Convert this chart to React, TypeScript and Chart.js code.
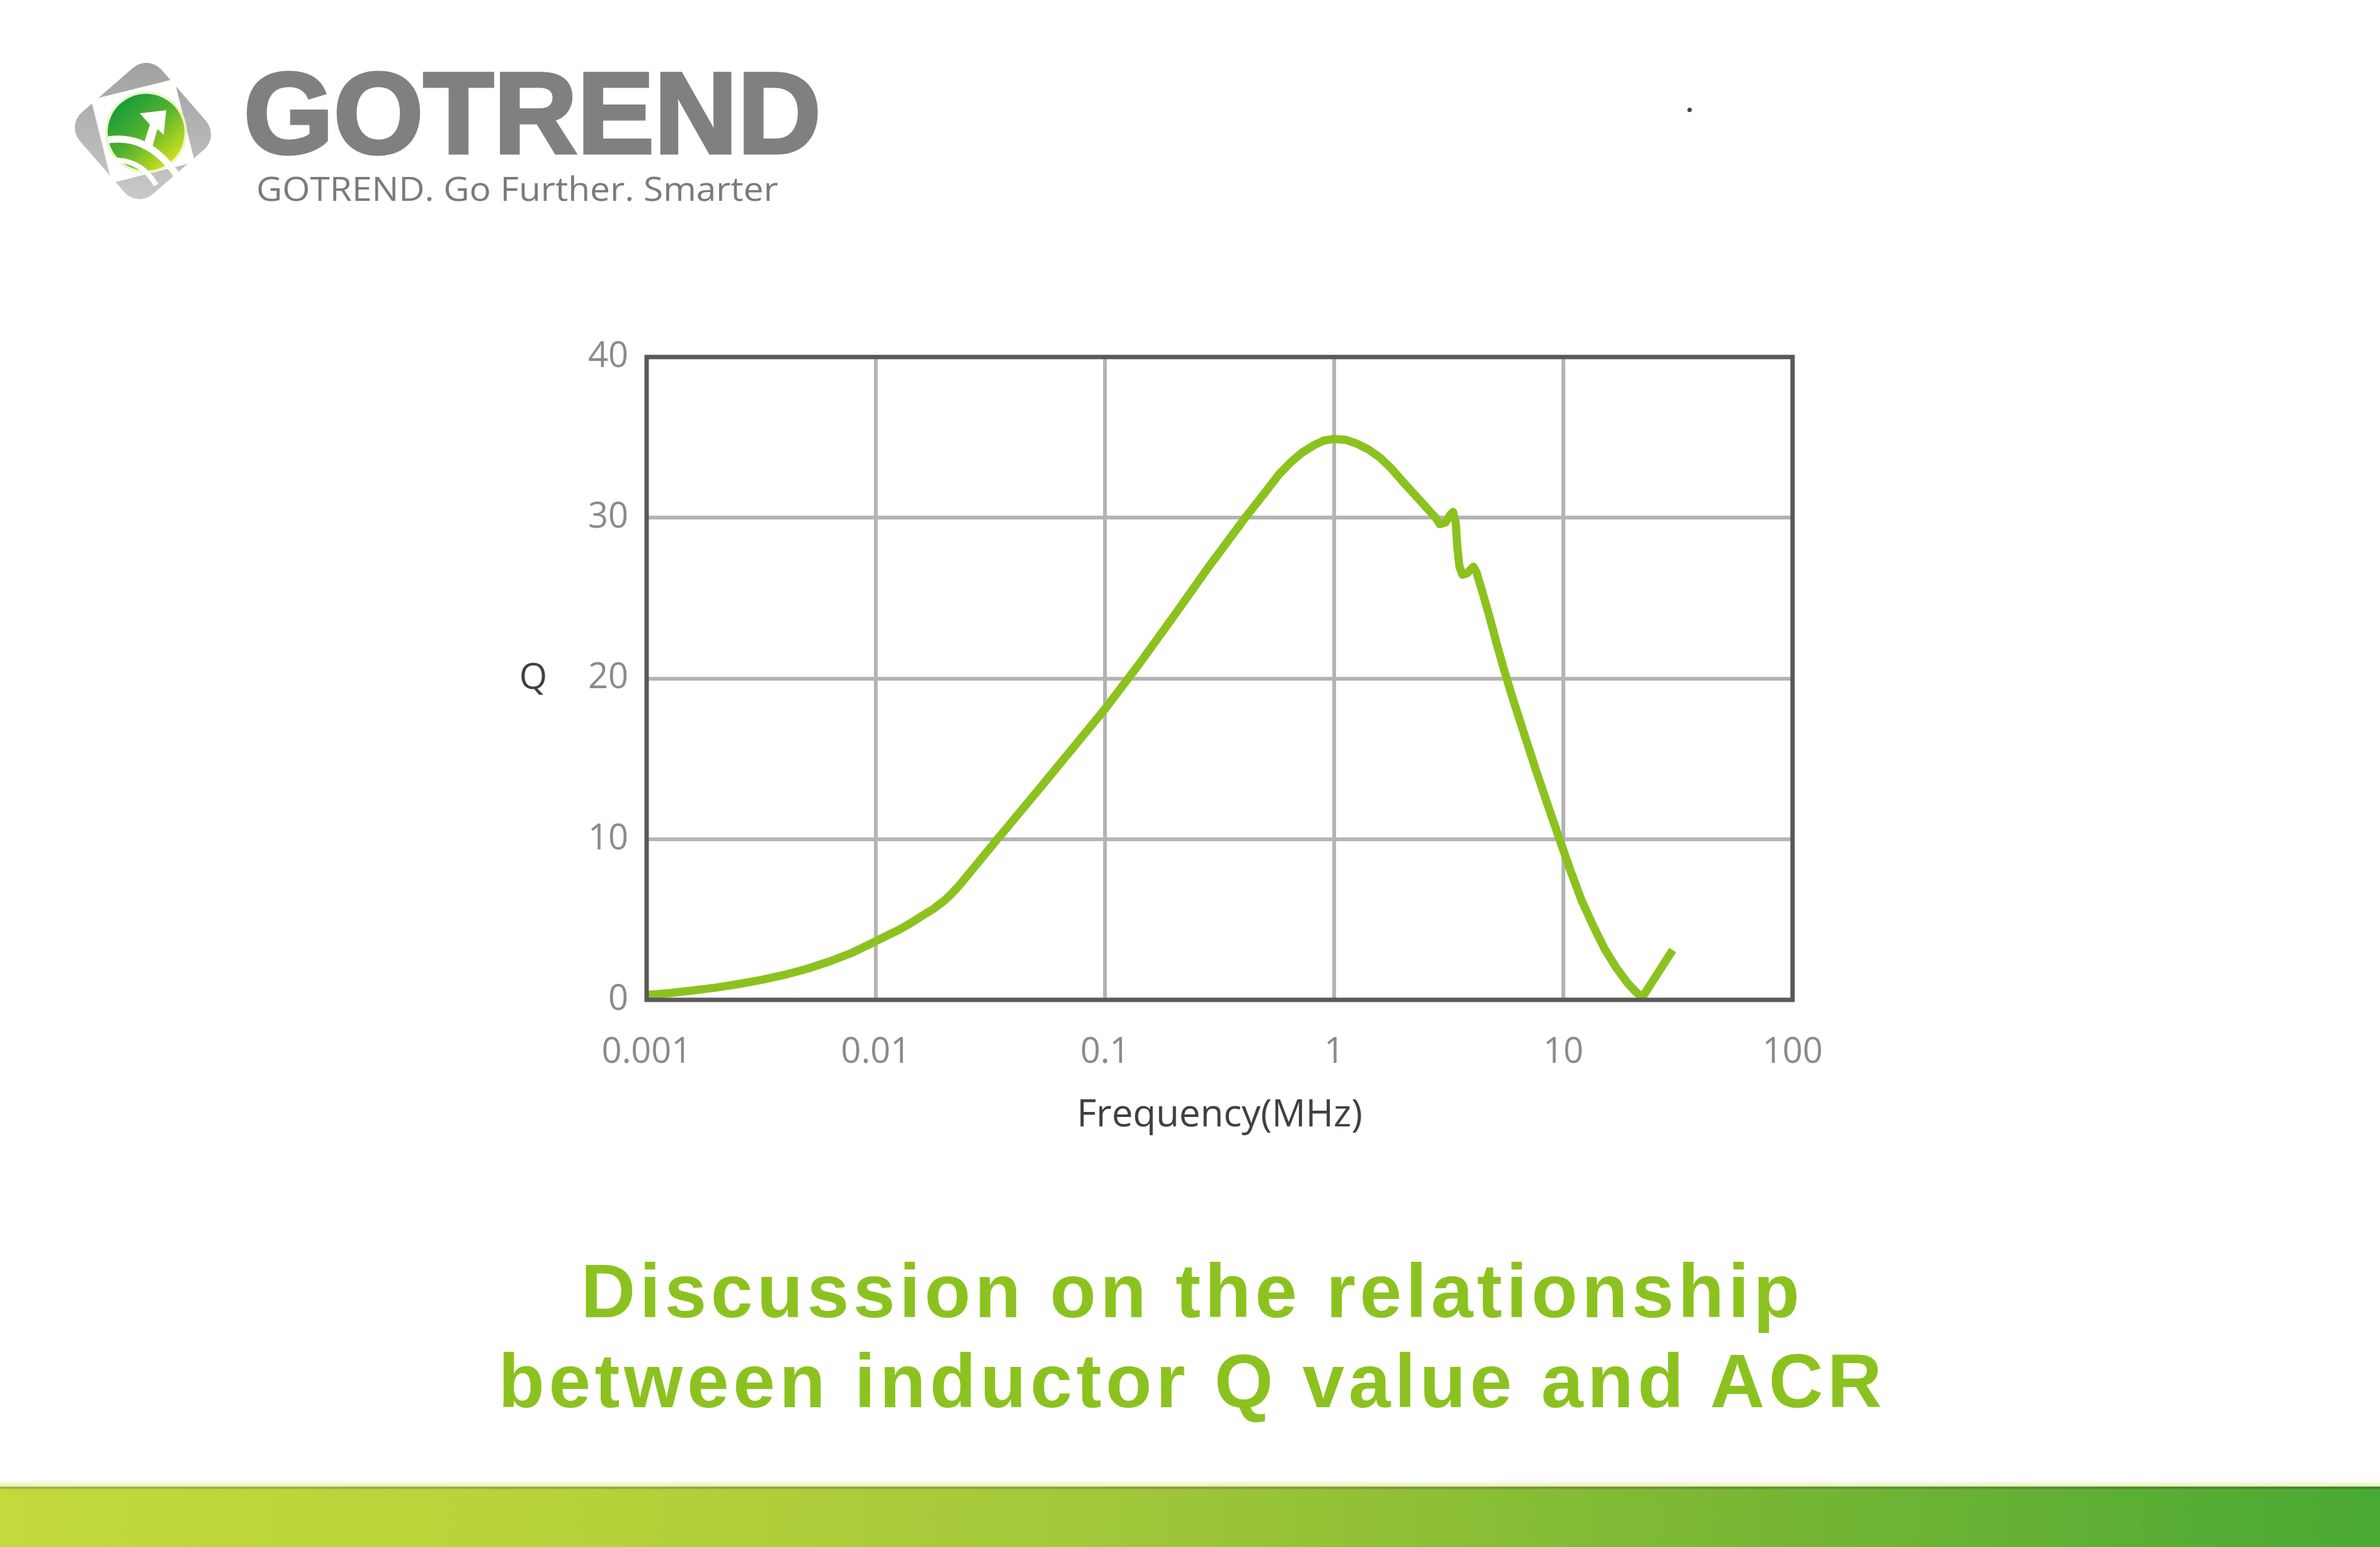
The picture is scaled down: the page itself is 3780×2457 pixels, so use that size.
import React, { useEffect, useRef } from "react";
import { Chart, registerables } from "chart.js";

Chart.register(...registerables);

// ---------- data ----------
const frequencyMHz = [
  0.001, 0.00126, 0.00158, 0.002, 0.00251, 0.00316, 0.00398, 0.00501, 0.00631, 0.00794,
  0.01, 0.0112, 0.0126, 0.0141, 0.0158, 0.0178, 0.02, 0.0214, 0.0229, 0.0344,
  0.0501, 0.0708, 0.1, 0.141, 0.2, 0.282, 0.404, 0.501, 0.575, 0.646,
  0.724, 0.813, 0.902, 1.0, 1.12, 1.26, 1.41, 1.58, 1.78, 2.02,
  2.44, 2.77, 2.89, 3.06, 3.2, 3.3, 3.39, 3.45, 3.52, 3.63,
  3.8, 4.05, 4.18, 4.47, 4.79, 5.13, 5.52, 6.03, 6.76, 7.59,
  8.51, 9.51, 10.7, 12.0, 13.5, 15.1, 17.0, 19.05, 20.7, 22.08,
  30.0,
];
const qValues = [
  0.3, 0.42, 0.58, 0.76, 0.98, 1.24, 1.55, 1.93, 2.4, 2.95,
  3.65, 4.0, 4.35, 4.75, 5.2, 5.65, 6.2, 6.6, 7.05, 10.1,
  12.9, 15.5, 18.1, 20.9, 23.9, 26.9, 29.9, 31.6, 32.7, 33.45,
  34.05, 34.5, 34.8, 34.9, 34.85, 34.6, 34.25, 33.75, 33.05, 32.15,
  30.87, 30.0, 29.6, 29.7, 30.15, 30.36, 29.7, 28.1, 26.95, 26.45,
  26.55, 26.95, 26.6, 25.2, 23.7, 22.1, 20.5, 18.7, 16.5, 14.3,
  12.2, 10.2, 8.1, 6.2, 4.6, 3.2, 2.0, 1.05, 0.5, 0.15,
  3.1,
];
const xTickValues = [0.001, 0.01, 0.1, 1, 10, 100];
const xTickLabels = ["0.001", "0.01", "0.1", "1", "10", "100"];
const yTickValues = [0, 10, 20, 30, 40];
const yTickLabels = ["0", "10", "20", "30", "40"];
const xAxisTitle = "Frequency(MHz)";
const yAxisTitle = "Q";
const titleLines = ["Discussion on the relationship", "between inductor Q value and ACR"];
const brandName = "GOTREND";
const brandTagline = "GOTREND. Go Further. Smarter";

// ---------- styles ----------
const GREEN = "#8cc21f";
const GRID = "#b4b4b4";
const FRAME = "#595959";
const TICK = "#8a8a8a";
const LABEL = "#404040";
const SANS = '"Open Sans", "Noto Sans", sans-serif';

const framePlugin = {
  id: "frameAndQ",
  afterDatasetsDraw(chart: any) {
    const { ctx, chartArea } = chart;
    const { left, top, right, bottom } = chartArea;
    ctx.save();
    ctx.strokeStyle = FRAME;
    ctx.lineWidth = 7;
    ctx.strokeRect(left, top, right - left, bottom - top);
    ctx.fillStyle = LABEL;
    ctx.font = `57px ${SANS}`;
    ctx.textAlign = "center";
    ctx.textBaseline = "middle";
    ctx.fillText(yAxisTitle, left - 180, (top + bottom) / 2);
    ctx.restore();
  },
};

function QChart() {
  const ref = useRef<HTMLCanvasElement | null>(null);
  useEffect(() => {
    if (!ref.current) return;
    const chart = new Chart(ref.current, {
      type: "line",
      data: {
        datasets: [
          {
            data: frequencyMHz.map((f, i) => ({ x: f, y: qValues[i] })),
            borderColor: GREEN,
            borderWidth: 13,
            pointRadius: 0,
            tension: 0,
            fill: false,
            borderJoinStyle: "round",
            borderCapStyle: "butt",
          } as any,
        ],
      },
      options: {
        animation: false,
        responsive: false,
        maintainAspectRatio: false,
        devicePixelRatio: 1,
        events: [],
        layout: { padding: { top: 117, right: 153, bottom: 42, left: 0 } },
        plugins: { legend: { display: false }, tooltip: { enabled: false } },
        scales: {
          x: {
            type: "logarithmic",
            min: 0.001,
            max: 100,
            afterBuildTicks: (s: any) => {
              s.ticks = xTickValues.map((v) => ({ value: v }));
            },
            afterFit: (s: any) => {
              s.height = 220;
            },
            ticks: {
              callback: (_v: any, i: number) => xTickLabels[i],
              autoSkip: false,
              maxRotation: 0,
              minRotation: 0,
              padding: 50,
              color: TICK,
              font: { family: SANS, size: 56 },
            },
            grid: { color: GRID, lineWidth: 6, drawTicks: false },
            border: { display: false },
            title: {
              display: true,
              text: xAxisTitle,
              color: LABEL,
              font: { family: SANS, size: 60 },
              padding: { top: 0, bottom: 0 },
            },
          },
          y: {
            type: "linear",
            min: 0,
            max: 40,
            afterBuildTicks: (s: any) => {
              s.ticks = yTickValues.map((v) => ({ value: v }));
            },
            afterFit: (s: any) => {
              s.width = 327;
            },
            ticks: {
              callback: (_v: any, i: number) => yTickLabels[i],
              padding: 29,
              color: TICK,
              font: { family: SANS, size: 56 },
            },
            grid: { color: GRID, lineWidth: 6, drawTicks: false },
            border: { display: false },
          },
        },
      } as any,
      plugins: [framePlugin],
    });
    return () => chart.destroy();
  }, []);
  return (
    <canvas
      ref={ref}
      width={2300}
      height={1400}
      style={{ position: "absolute", left: 700, top: 450, width: 2300, height: 1400 }}
    />
  );
}

function Logo() {
  return (
    <svg
      width={1400}
      height={360}
      style={{ position: "absolute", left: 0, top: 0 }}
      xmlns="http://www.w3.org/2000/svg"
    >
      <defs>
        <linearGradient id="ball" x1="0.1" y1="0.1" x2="0.9" y2="0.95">
          <stop offset="0" stopColor="#129a3d" />
          <stop offset="0.45" stopColor="#4fb12f" />
          <stop offset="1" stopColor="#e2e61c" />
        </linearGradient>
        <linearGradient id="frameG" x1="0" y1="0" x2="1" y2="1">
          <stop offset="0" stopColor="#9e9e9e" />
          <stop offset="1" stopColor="#cbcbcb" />
        </linearGradient>
      </defs>
      <g transform="rotate(49 227 208)">
        <rect x={227 - 86} y={208 - 86} width={172} height={172} rx={32} fill="url(#frameG)" />
      </g>
      <g transform="rotate(-14 227 208)">
        <rect x={227 - 68} y={208 - 68} width={136} height={136} rx={5} fill="#ffffff" />
      </g>
      <circle cx={232} cy={210} r={65} fill="#eaf7c8" />
      <circle cx={232} cy={210} r={61} fill="url(#ball)" />
      <path d="M 172 222 Q 242 212 288 290" stroke="#ffffff" strokeWidth={11} fill="none" />
      <path d="M 176 254 Q 224 252 248 294" stroke="#ffffff" strokeWidth={8} fill="none" />
      <path d="M 222 180 L 264 175 L 260 214 L 250 205 L 240 240 L 226 236 L 238 198 Z" fill="#ffffff" />
      <text
        x={387}
        y={243}
        fontFamily='"Liberation Sans", Arial, sans-serif'
        fontWeight={700}
        fontSize={183}
        fill="#808080"
        stroke="#808080"
        strokeWidth={5}
        textLength={917}
        lengthAdjust="spacingAndGlyphs"
      >
        {brandName}
      </text>
      <text
        x={407}
        y={319}
        fontFamily={SANS}
        fontSize={53}
        fill="#7b7b7b"
        textLength={829}
        lengthAdjust="spacingAndGlyphs"
      >
        {brandTagline}
      </text>
    </svg>
  );
}

export default function App() {
  return (
    <div
      style={{
        position: "absolute",
        left: 0,
        top: 0,
        width: 3780,
        height: 2457,
        overflow: "hidden",
        background: "#ffffff",
      }}
    >
      <Logo />
      <div
        style={{
          position: "absolute",
          left: 2680,
          top: 171,
          width: 7,
          height: 7,
          borderRadius: 4,
          background: "#444",
        }}
      />
      <QChart />
      <div
        style={{
          position: "absolute",
          left: 0,
          top: 1979,
          width: 3780,
          paddingLeft: 7,
          boxSizing: "border-box",
          textAlign: "center",
          fontFamily: '"Liberation Sans", Arial, sans-serif',
          fontWeight: 700,
          fontSize: 120,
          lineHeight: "143px",
          letterSpacing: 6.5,
          color: GREEN,
          whiteSpace: "nowrap",
        }}
      >
        {titleLines[0]}
        <br />
        {titleLines[1]}
      </div>
      <div
        style={{
          position: "absolute",
          left: 0,
          top: 2350,
          width: 3780,
          height: 11,
          background: "linear-gradient(to bottom, rgba(235,240,160,0) 0%, rgba(225,235,150,0.7) 100%)",
        }}
      />
      <div
        style={{
          position: "absolute",
          left: 0,
          top: 2361,
          width: 3780,
          height: 4,
          background: "linear-gradient(to right, #a5b54a 0%, #8da043 50%, #3f8a30 100%)",
        }}
      />
      <div
        style={{
          position: "absolute",
          left: 0,
          top: 2365,
          width: 3780,
          height: 92,
          background:
            "linear-gradient(to right, #c3d93c 0%, #b6d23a 25%, #a0c63a 48%, #8dbf35 60%, #71b434 78%, #49a934 100%)",
        }}
      />
    </div>
  );
}
